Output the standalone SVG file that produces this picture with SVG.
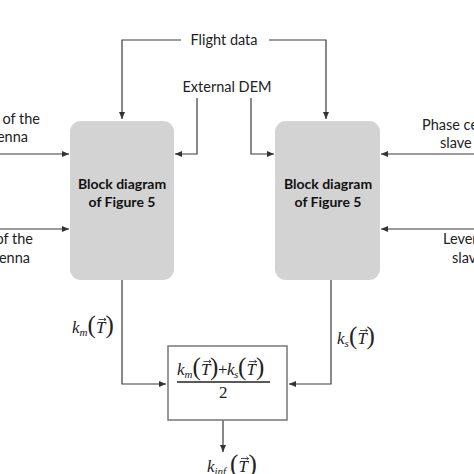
<svg xmlns="http://www.w3.org/2000/svg" width="474" height="474" viewBox="0 0 474 474">
<defs>
<marker id="ah" markerUnits="userSpaceOnUse" markerWidth="8" markerHeight="8" viewBox="0 0 8 8" refX="7" refY="4" orient="auto">
<path d="M0,1 L7,4 L0,7 Z" fill="#333"/>
</marker>
<style>
.lbl{font-family:Lato,"Open Sans","Liberation Sans",sans-serif;font-size:14.5px;fill:#222}
.blk{font-family:Lato,"Open Sans","Liberation Sans",sans-serif;font-size:14px;font-weight:bold;fill:#111;text-anchor:middle}
.m{font-family:"Liberation Serif","Times New Roman",serif;font-style:italic;font-size:17px;fill:#222}
.sub{font-size:11px}
.par{font-style:normal;font-size:25px}
.vec{fill:none;stroke:#222;stroke-width:0.8}
.conn{fill:none;stroke:#3a3a3a;stroke-width:1.2}
.block{fill:#d3d3d3}
</style>
</defs>
<rect width="474" height="474" fill="#fff"/>

<g id="connectors">
<path class="conn" d="M181,40 H122 V119" marker-end="url(#ah)"/>
<path class="conn" d="M269,40 H326 V119" marker-end="url(#ah)"/>
<path class="conn" d="M197,98 V154 H175" marker-end="url(#ah)"/>
<path class="conn" d="M251,98 V154 H274" marker-end="url(#ah)"/>
<path class="conn" d="M0,154 H69" marker-end="url(#ah)"/>
<path class="conn" d="M0,229 H69" marker-end="url(#ah)"/>
<path class="conn" d="M474,154 H381" marker-end="url(#ah)"/>
<path class="conn" d="M474,229 H381" marker-end="url(#ah)"/>
<path class="conn" d="M122,280 V384 H166" marker-end="url(#ah)"/>
<path class="conn" d="M331,280 V384 H289" marker-end="url(#ah)"/>
<path class="conn" d="M223,420 V452" marker-end="url(#ah)"/>
</g>

<g id="flight-data"><text class="lbl" x="224" y="45" text-anchor="middle">Flight data</text></g>
<g id="external-dem"><text class="lbl" x="227" y="92" text-anchor="middle">External DEM</text></g>

<g id="in-left-1">
<text class="lbl" x="40" y="124" text-anchor="end">of the</text>
<text class="lbl" x="28" y="142" text-anchor="end">enna</text>
</g>
<g id="in-left-2">
<text class="lbl" x="33" y="244" text-anchor="end">of the</text>
<text class="lbl" x="30" y="263" text-anchor="end">enna</text>
</g>
<g id="in-right-1">
<text class="lbl" x="422" y="130">Phase ce</text>
<text class="lbl" x="440" y="148">slave</text>
</g>
<g id="in-right-2">
<text class="lbl" x="443" y="244">Lever</text>
<text class="lbl" x="452" y="263">slav</text>
</g>

<g id="block-master">
<rect class="block" x="70" y="121" width="104" height="159" rx="11"/>
<text class="blk" x="122" y="189">Block diagram</text>
<text class="blk" x="122" y="207">of Figure 5</text>
</g>
<g id="block-slave">
<rect class="block" x="275" y="121" width="105" height="159" rx="11"/>
<text class="blk" x="328" y="189">Block diagram</text>
<text class="blk" x="328" y="207">of Figure 5</text>
</g>

<g id="label-km">
<text class="m" y="333"><tspan x="72">k</tspan><tspan class="sub" x="79.5" y="336">m</tspan><tspan class="par" x="87.5" y="333">(</tspan><tspan x="96" y="333">T</tspan><tspan class="par" x="105.5" y="333">)</tspan></text>
<path class="vec" d="M98.5,319.5 H106 M104,318 L106,319.5 L104,321"/>
</g>
<g id="label-ks">
<text class="m" y="344"><tspan x="337">k</tspan><tspan class="sub" x="344.5" y="347">s</tspan><tspan class="par" x="349" y="344">(</tspan><tspan x="357.5" y="344">T</tspan><tspan class="par" x="366.5" y="344">)</tspan></text>
<path class="vec" d="M360,330.5 H367.5 M365.5,329 L367.5,330.5 L365.5,332"/>
</g>

<g id="average">
<rect x="168" y="346" width="119" height="74" fill="#fff" stroke="#777" stroke-width="1.5"/>
<text class="m" y="375"><tspan x="177">k</tspan><tspan class="sub" x="184.5" y="378">m</tspan><tspan class="par" x="192.5" y="375">(</tspan><tspan x="201" y="375">T</tspan><tspan class="par" x="210" y="375">)</tspan><tspan style="font-style:normal" x="218" y="375">+</tspan><tspan x="227" y="375">k</tspan><tspan class="sub" x="234" y="378">s</tspan><tspan class="par" x="238" y="375">(</tspan><tspan x="246.5" y="375">T</tspan><tspan class="par" x="256" y="375">)</tspan></text>
<path class="vec" d="M203.5,361.5 H211 M209,360 L211,361.5 L209,363"/>
<path class="vec" d="M249,361.5 H256.5 M254.5,360 L256.5,361.5 L254.5,363"/>
<line x1="177" y1="382" x2="270" y2="382" stroke="#222" stroke-width="1.3"/>
<text class="m" style="font-style:normal" x="219" y="398">2</text>
</g>

<g id="label-kinf">
<text class="m" y="472"><tspan x="207">k</tspan><tspan class="sub" x="214.5" y="475">inf</tspan><tspan class="par" x="230" y="472">(</tspan><tspan x="238.5" y="472">T</tspan><tspan class="par" x="248.5" y="472">)</tspan></text>
<path class="vec" d="M241,458.5 H248.5 M246.5,457 L248.5,458.5 L246.5,460"/>
</g>
</svg>
